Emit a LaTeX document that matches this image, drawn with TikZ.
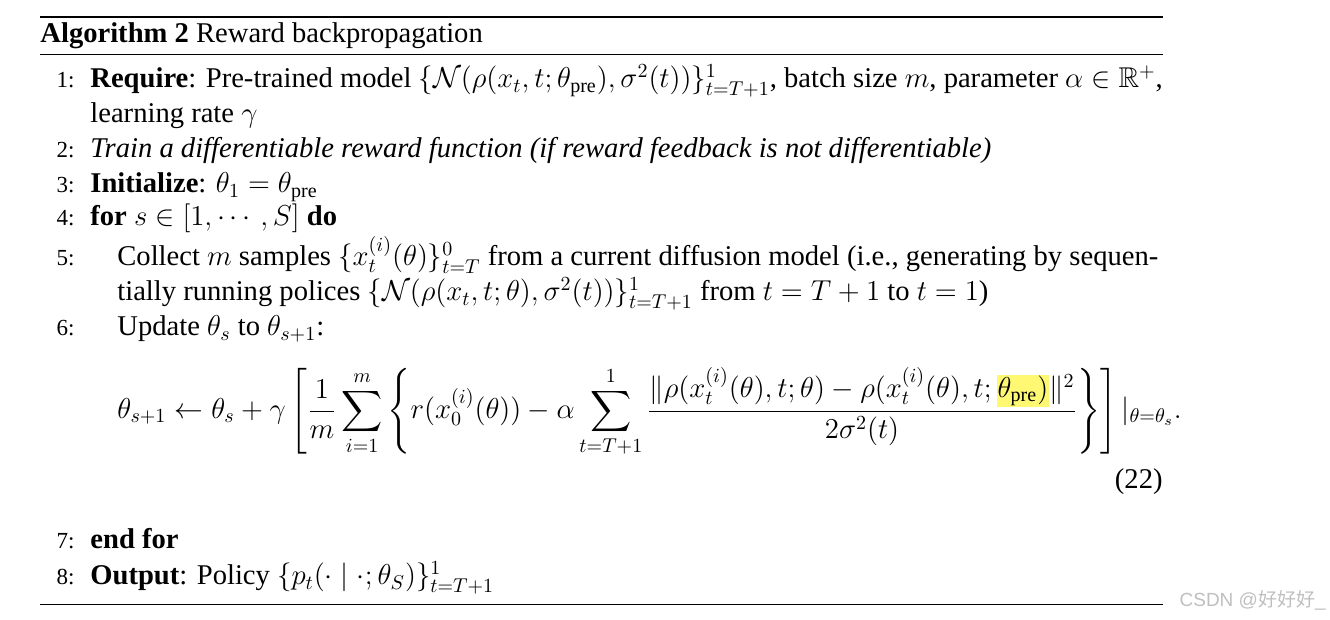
\documentclass[tikz,border=0pt]{standalone}
\usepackage{amsmath,amssymb}
\usepackage{fontspec}
\setmainfont{Liberation Serif}
\newfontfamily\cjk{Noto Sans CJK SC}
\newfontfamily\wsans{Liberation Sans}
\begin{document}
\begin{tikzpicture}[x=0.5pt,y=-0.5pt,
  num/.style={anchor=base east,font=\fontsize{11.5}{13}\selectfont,inner sep=0},
  txt/.style={anchor=base west,font=\fontsize{14.3}{16}\selectfont,inner sep=0}]
\useasboundingbox (0,0) rectangle (1330,620);
\draw[line width=0.8pt] (40,17) -- (1163,17);
\draw[line width=0.4pt] (40,54) -- (1163,54);
\draw[line width=0.4pt] (40,604) -- (1163,604);
\node[txt] (title) at (40,43) {\textbf{Algorithm 2} Reward backpropagation};
\node[num] (n1) at (75,88) {1:};
\node[txt] (l1) at (90,88) {\textbf{Require}: Pre-trained model $\{\mathcal{N}(\rho(x_t,t;\theta_{\mathrm{pre}}),\sigma^2(t))\}_{t=T+1}^{1}$, batch size $m$, parameter $\alpha\in\mathbb{R}^{+}$,};
\node[txt] (l1b) at (90,123) {learning rate $\gamma$};
\node[num] (n2) at (75,158) {2:};
\node[txt] (l2) at (90,158) {\textit{Train a differentiable reward function (if reward feedback is not differentiable)}};
\node[num] (n3) at (75,193) {3:};
\node[txt] (l3) at (90,193) {\textbf{Initialize}: $\theta_1=\theta_{\mathrm{pre}}$};
\node[num] (n4) at (75,226) {4:};
\node[txt] (l4) at (90,226) {\textbf{for} $s\in[1,\cdots,S]$ \textbf{do}};
\node[num] (n5) at (75,266) {5:};
\node[txt] (l5) at (117,266) {Collect $m$ samples $\{x_t^{(i)}(\theta)\}_{t=T}^{0}$ from a current diffusion model (i.e., generating by sequen-};
\node[txt] (l5b) at (117,301) {tially running polices $\{\mathcal{N}(\rho(x_t,t;\theta),\sigma^2(t))\}_{t=T+1}^{1}$ from $t=T+1$ to $t=1$)};
\node[num] (n6) at (75,336) {6:};
\node[txt] (l6) at (117,336) {Update $\theta_s$ to $\theta_{s+1}$:};
\node[txt,anchor=west] (eq) at (117,412) {\setlength{\fboxsep}{0.5pt}$\displaystyle
\theta_{s+1}\leftarrow\theta_s+\gamma\left[\frac{1}{m}\sum_{i=1}^{m}\left\{r(x_0^{(i)}(\theta))-\alpha\sum_{t=T+1}^{1}\frac{\|\rho(x_t^{(i)}(\theta),t;\theta)-\rho(x_t^{(i)}(\theta),t;\colorbox{yellow!55}{$\theta_{\mathrm{pre}})$}\|^2}{2\sigma^2(t)}\right\}\right]|_{\theta=\theta_s}.$};
\node[txt,anchor=base east] (eqn) at (1163,489) {(22)};
\node[num] (n7) at (75,549) {7:};
\node[txt] (l7) at (90,549) {\textbf{end for}};
\node[num] (n8) at (75,585) {8:};
\node[txt] (l8) at (90,585) {\textbf{Output}: Policy $\{p_t(\cdot\mid\cdot;\theta_S)\}_{t=T+1}^{1}$};
\node[anchor=east,text=black!25,font=\fontsize{9.5}{11}\selectfont,inner sep=0] (wm) at (1326,600) {\wsans CSDN @\cjk 好好好\wsans\_};
\end{tikzpicture}
\end{document}
